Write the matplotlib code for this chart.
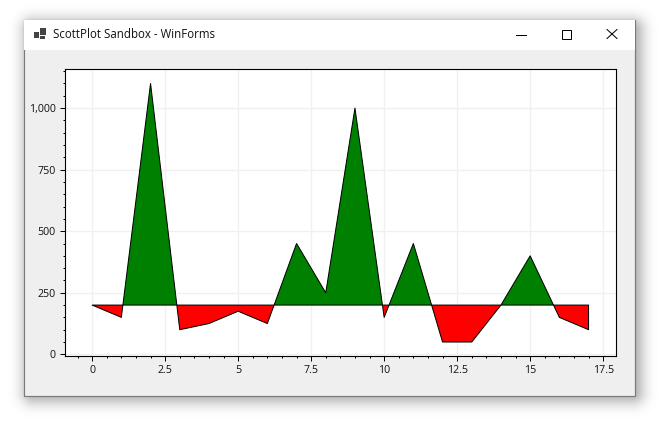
import numpy as np
import matplotlib
matplotlib.use('Agg')
import matplotlib.pyplot as plt
from matplotlib.patches import Rectangle
from matplotlib.ticker import MultipleLocator, FuncFormatter

xs = np.arange(18)
ys = np.array([200, 150, 1100, 100, 125, 175, 125, 450, 250, 1000,
               150, 450, 50, 50, 200, 400, 150, 100], dtype=float)
baseline = 200
window_title = 'ScottPlot Sandbox - WinForms'

W, H = 661, 426
px = 72 / 100  # one pixel in points

plt.rcParams['font.family'] = ['Open Sans', 'DejaVu Sans']

fig = plt.figure(figsize=(W / 100, H / 100), dpi=100, facecolor='white')

# window chrome, drawn in pixel coordinates
bg = fig.add_axes([0, 0, 1, 1], zorder=0)

# soft drop shadow, fades with the distance from a box inside the window
gx, gy = np.meshgrid(np.arange(W) + 0.5, np.arange(H) + 0.5)
dx = np.maximum(np.maximum(34 - gx, gx - 632), 0)
dy = np.maximum(np.maximum(30 - gy, gy - 392), 0)
dist = np.hypot(dx, dy)
shade = 1 - 0.3 * np.exp(-(dist / 13) ** 2)
bg.imshow(shade, cmap='gray', vmin=0, vmax=1, extent=(0, W, H, 0),
          interpolation='nearest', aspect='auto')

bg.set_xlim(0, W)
bg.set_ylim(H, 0)
bg.axis('off')

bg.add_patch(Rectangle((23.5, 19.5), 611.8, 376.8, fc='#efefef', ec='#7a7a7a', lw=px * 1.2))
bg.add_patch(Rectangle((24, 20), 611, 30, fc='white', ec='none'))

# title bar icon and text
bg.add_patch(Rectangle((34, 32), 5, 6, fc='#444444', ec='none'))
bg.add_patch(Rectangle((39.5, 28), 6.5, 6.5, fc='#444444', ec='none'))
bg.add_patch(Rectangle((39.5, 36), 5, 3, fc='#444444', ec='none'))
bg.text(53, 35, window_title, fontsize=8.3, color='#111111', va='center', ha='left')

# window buttons
bg.plot([516, 526], [34.5, 34.5], color='black', lw=px)
bg.add_patch(Rectangle((561.5, 29.5), 9, 9, fc='none', ec='black', lw=px))
bg.plot([607, 617], [29.5, 38.5], color='black', lw=px)
bg.plot([607, 617], [38.5, 29.5], color='black', lw=px)

# plot area
left, right, top, bottom = 64.7, 616.3, 69.4, 356.3
ax = fig.add_axes([left / W, 1 - bottom / H, (right - left) / W, (bottom - top) / H], zorder=1)

ax.fill_between(xs, ys, baseline, where=ys >= baseline, interpolate=True,
                facecolor='green', edgecolor='black', lw=px, zorder=3)
ax.fill_between(xs, ys, baseline, where=ys <= baseline, interpolate=True,
                facecolor='red', edgecolor='black', lw=px, zorder=3)

ax.set_xlim(-0.94, 17.95)
ax.set_ylim(-8, 1157)

ax.xaxis.set_major_locator(MultipleLocator(2.5))
ax.xaxis.set_minor_locator(MultipleLocator(0.5))
ax.yaxis.set_major_locator(MultipleLocator(250))
ax.yaxis.set_minor_locator(MultipleLocator(50))
ax.xaxis.set_major_formatter(FuncFormatter(lambda v, p: f'{v:g}'))
ax.yaxis.set_major_formatter(FuncFormatter(lambda v, p: f'{v:,.0f}'))

ax.grid(True, which='major', color='#f0f0f0', lw=px * 1.4, zorder=0)
ax.set_axisbelow(True)
ax.tick_params(which='major', length=5 * px, width=px, labelsize=7.7, pad=3, colors='black')
ax.tick_params(which='minor', length=2 * px, width=px, colors='black')
ax.tick_params(axis='both', labelcolor='#111111')
for s in ax.spines.values():
    s.set_linewidth(px * 1.1)
    s.set_color('black')

fig.savefig('out.png', dpi=100, facecolor='white')
